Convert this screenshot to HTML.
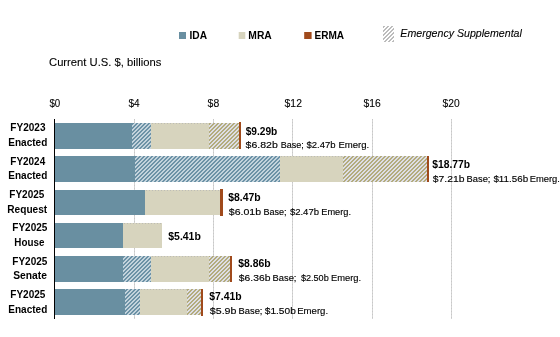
<!DOCTYPE html>
<html><head><meta charset="utf-8"><title>Chart</title><style>
html,body{margin:0;padding:0;background:#fff;width:560px;height:337px;overflow:hidden}
text{font-family:"Liberation Sans", sans-serif}
</style></head><body>
<svg width="560" height="337" viewBox="0 0 560 337" style='display:block;will-change:transform;font-family:"Liberation Sans", sans-serif'>
<defs><pattern id="bh" patternUnits="userSpaceOnUse" x="3" y="0" width="4" height="4"><rect width="4" height="4" fill="#c3d3dc"/><path d="M0,0h1v1h-1z M1,0h1v1h-1z M0,1h1v1h-1z M3,1h1v1h-1z M2,2h1v1h-1z M3,2h1v1h-1z M1,3h1v1h-1z M2,3h1v1h-1z" fill="#6c92a6" shape-rendering="crispEdges"/></pattern><pattern id="th" patternUnits="userSpaceOnUse" x="0" y="0" width="4" height="4"><rect width="4" height="4" fill="#dedee5"/><path d="M0,0h1v1h-1z M1,0h1v1h-1z M0,1h1v1h-1z M3,1h1v1h-1z M2,2h1v1h-1z M3,2h1v1h-1z M1,3h1v1h-1z M2,3h1v1h-1z" fill="#b3ac7e" shape-rendering="crispEdges"/></pattern><pattern id="gh" patternUnits="userSpaceOnUse" x="1" y="0" width="4" height="4"><rect width="4" height="4" fill="#ffffff"/><path d="M0,0h1v1h-1z M1,0h1v1h-1z M0,1h1v1h-1z M3,1h1v1h-1z M2,2h1v1h-1z M3,2h1v1h-1z M1,3h1v1h-1z M2,3h1v1h-1z" fill="#bcbcbc" shape-rendering="crispEdges"/></pattern></defs>
<rect x="179" y="32" width="7" height="7" fill="#698fa1"/>
<rect x="238.7" y="32" width="6.6" height="7" fill="#d7d4be"/>
<rect x="304.2" y="32" width="7.4" height="7" fill="#a04a1c"/>
<rect x="383" y="26" width="11" height="16" fill="url(#gh)"/>
<rect x="134" y="119" width="1" height="200" fill="#d4d4d4"/>
<line x1="134.5" y1="119" x2="134.5" y2="319" stroke="#c8c8c8" stroke-width="1" stroke-dasharray="1 2"/>
<rect x="213" y="119" width="1" height="200" fill="#d4d4d4"/>
<line x1="213.5" y1="119" x2="213.5" y2="319" stroke="#c8c8c8" stroke-width="1" stroke-dasharray="1 2"/>
<rect x="292" y="119" width="1" height="200" fill="#d4d4d4"/>
<line x1="292.5" y1="119" x2="292.5" y2="319" stroke="#c8c8c8" stroke-width="1" stroke-dasharray="1 2"/>
<rect x="372" y="119" width="1" height="200" fill="#d4d4d4"/>
<line x1="372.5" y1="119" x2="372.5" y2="319" stroke="#c8c8c8" stroke-width="1" stroke-dasharray="1 2"/>
<rect x="451" y="119" width="1" height="200" fill="#d4d4d4"/>
<line x1="451.5" y1="119" x2="451.5" y2="319" stroke="#c8c8c8" stroke-width="1" stroke-dasharray="1 2"/>
<rect x="55" y="123" width="77" height="26" fill="#698fa1"/>
<rect x="132" y="123" width="19" height="26" fill="url(#bh)"/>
<rect x="151" y="123" width="58" height="26" fill="#d7d4be"/>
<line x1="152" y1="123.5" x2="209" y2="123.5" stroke="#bdbcb6" stroke-width="1" stroke-dasharray="1 2"/>
<rect x="209" y="123" width="30" height="26" fill="url(#th)"/>
<rect x="239" y="122" width="2" height="27" fill="#a04a1c"/>
<rect x="55" y="156" width="80" height="26" fill="#698fa1"/>
<rect x="135" y="156" width="145" height="26" fill="url(#bh)"/>
<rect x="280" y="156" width="63" height="26" fill="#d7d4be"/>
<line x1="281" y1="156.5" x2="343" y2="156.5" stroke="#bdbcb6" stroke-width="1" stroke-dasharray="1 2"/>
<rect x="343" y="156" width="84" height="26" fill="url(#th)"/>
<rect x="427" y="156" width="2" height="26" fill="#a04a1c"/>
<rect x="55" y="190" width="90" height="25" fill="#698fa1"/>
<rect x="145" y="190" width="75" height="25" fill="#d7d4be"/>
<line x1="146" y1="190.5" x2="220" y2="190.5" stroke="#bdbcb6" stroke-width="1" stroke-dasharray="1 2"/>
<rect x="220" y="189" width="3" height="27" fill="#a04a1c"/>
<rect x="55" y="223" width="68" height="25" fill="#698fa1"/>
<rect x="123" y="223" width="39" height="25" fill="#d7d4be"/>
<line x1="124" y1="223.5" x2="162" y2="223.5" stroke="#bdbcb6" stroke-width="1" stroke-dasharray="1 2"/>
<rect x="55" y="256" width="68" height="26" fill="#698fa1"/>
<rect x="123" y="256" width="28" height="26" fill="url(#bh)"/>
<rect x="151" y="256" width="58" height="26" fill="#d7d4be"/>
<line x1="152" y1="256.5" x2="209" y2="256.5" stroke="#bdbcb6" stroke-width="1" stroke-dasharray="1 2"/>
<rect x="209" y="256" width="21" height="26" fill="url(#th)"/>
<rect x="230" y="256" width="2" height="26" fill="#a04a1c"/>
<rect x="55" y="289" width="70" height="26" fill="#698fa1"/>
<rect x="125" y="289" width="15" height="26" fill="url(#bh)"/>
<rect x="140" y="289" width="47" height="26" fill="#d7d4be"/>
<line x1="141" y1="289.5" x2="187" y2="289.5" stroke="#bdbcb6" stroke-width="1" stroke-dasharray="1 2"/>
<rect x="187" y="289" width="14" height="26" fill="url(#th)"/>
<rect x="201" y="289" width="2" height="27" fill="#a04a1c"/>
<rect x="54" y="119" width="1" height="200" fill="#000"/>
<g fill="#000"><text x="189.54" y="38.6" font-size="10.8" font-weight="bold" font-style="normal" textLength="17.54" lengthAdjust="spacingAndGlyphs">IDA</text>
<text x="248.33" y="38.5" font-size="10.8" font-weight="bold" font-style="normal" textLength="23.45" lengthAdjust="spacingAndGlyphs">MRA</text>
<text x="314.45" y="38.5" font-size="10.8" font-weight="bold" font-style="normal" textLength="29.65" lengthAdjust="spacingAndGlyphs">ERMA</text>
<text x="400.33" y="36.75" font-size="10.5" font-weight="normal" font-style="italic" textLength="121.51" lengthAdjust="spacingAndGlyphs" stroke="#000" stroke-width="0.1">Emergency Supplemental</text>
<text x="49.04" y="66.0" font-size="10.5" font-weight="normal" font-style="normal" textLength="112.25" lengthAdjust="spacingAndGlyphs" stroke="#000" stroke-width="0.1">Current U.S. $, billions</text>
<text x="49.40" y="107.0" font-size="10.3" font-weight="normal" font-style="normal" textLength="10.81" lengthAdjust="spacingAndGlyphs" stroke="#000" stroke-width="0.1">$0</text>
<text x="128.40" y="107.0" font-size="10.3" font-weight="normal" font-style="normal" textLength="11.17" lengthAdjust="spacingAndGlyphs" stroke="#000" stroke-width="0.1">$4</text>
<text x="207.60" y="107.0" font-size="10.3" font-weight="normal" font-style="normal" textLength="11.65" lengthAdjust="spacingAndGlyphs" stroke="#000" stroke-width="0.1">$8</text>
<text x="284.60" y="107.0" font-size="10.3" font-weight="normal" font-style="normal" textLength="17.31" lengthAdjust="spacingAndGlyphs" stroke="#000" stroke-width="0.1">$12</text>
<text x="363.60" y="107.0" font-size="10.3" font-weight="normal" font-style="normal" textLength="17.25" lengthAdjust="spacingAndGlyphs" stroke="#000" stroke-width="0.1">$16</text>
<text x="442.60" y="107.0" font-size="10.3" font-weight="normal" font-style="normal" textLength="17.10" lengthAdjust="spacingAndGlyphs" stroke="#000" stroke-width="0.1">$20</text>
<text x="10.35" y="131.1" font-size="10" font-weight="bold" font-style="normal" textLength="35.13" lengthAdjust="spacingAndGlyphs">FY2023</text>
<text x="8.35" y="145.70000000000002" font-size="10" font-weight="bold" font-style="normal" textLength="38.90" lengthAdjust="spacingAndGlyphs">Enacted</text>
<text x="10.35" y="164.8" font-size="10" font-weight="bold" font-style="normal" textLength="34.82" lengthAdjust="spacingAndGlyphs">FY2024</text>
<text x="8.35" y="178.70000000000002" font-size="10" font-weight="bold" font-style="normal" textLength="38.90" lengthAdjust="spacingAndGlyphs">Enacted</text>
<text x="9.35" y="198.1" font-size="10" font-weight="bold" font-style="normal" textLength="34.92" lengthAdjust="spacingAndGlyphs">FY2025</text>
<text x="7.34" y="212.70000000000002" font-size="10" font-weight="bold" font-style="normal" textLength="39.86" lengthAdjust="spacingAndGlyphs">Request</text>
<text x="12.35" y="231.1" font-size="10" font-weight="bold" font-style="normal" textLength="35.02" lengthAdjust="spacingAndGlyphs">FY2025</text>
<text x="14.36" y="245.70000000000002" font-size="10" font-weight="bold" font-style="normal" textLength="29.99" lengthAdjust="spacingAndGlyphs">House</text>
<text x="12.35" y="264.79999999999995" font-size="10" font-weight="bold" font-style="normal" textLength="35.02" lengthAdjust="spacingAndGlyphs">FY2025</text>
<text x="13.19" y="278.7" font-size="10" font-weight="bold" font-style="normal" textLength="33.76" lengthAdjust="spacingAndGlyphs">Senate</text>
<text x="10.35" y="298.09999999999997" font-size="10" font-weight="bold" font-style="normal" textLength="35.02" lengthAdjust="spacingAndGlyphs">FY2025</text>
<text x="8.35" y="312.7" font-size="10" font-weight="bold" font-style="normal" textLength="38.90" lengthAdjust="spacingAndGlyphs">Enacted</text>
<text x="245.65" y="134.5" font-size="10" font-weight="bold" font-style="normal" textLength="31.69" lengthAdjust="spacingAndGlyphs">$9.29b</text>
<text x="432.25" y="167.5" font-size="10" font-weight="bold" font-style="normal" textLength="37.86" lengthAdjust="spacingAndGlyphs">$18.77b</text>
<text x="228.24" y="200.5" font-size="10" font-weight="bold" font-style="normal" textLength="32.41" lengthAdjust="spacingAndGlyphs">$8.47b</text>
<text x="168.24" y="239.75" font-size="10" font-weight="bold" font-style="normal" textLength="32.61" lengthAdjust="spacingAndGlyphs">$5.41b</text>
<text x="238.24" y="266.5" font-size="10" font-weight="bold" font-style="normal" textLength="32.41" lengthAdjust="spacingAndGlyphs">$8.86b</text>
<text x="209.24" y="299.5" font-size="10" font-weight="bold" font-style="normal" textLength="32.41" lengthAdjust="spacingAndGlyphs">$7.41b</text>
<text x="245.54" y="148.3" font-size="9.9" font-weight="normal" font-style="normal" textLength="32.27" lengthAdjust="spacingAndGlyphs" stroke="#000" stroke-width="0.15">$6.82b</text>
<text x="280.68" y="148.3" font-size="9.9" font-weight="normal" font-style="normal" textLength="23.05" lengthAdjust="spacingAndGlyphs" stroke="#000" stroke-width="0.15">Base;</text>
<text x="306.55" y="148.3" font-size="9.9" font-weight="normal" font-style="normal" textLength="29.06" lengthAdjust="spacingAndGlyphs" stroke="#000" stroke-width="0.15">$2.47b</text>
<text x="338.38" y="148.3" font-size="9.9" font-weight="normal" font-style="normal" textLength="30.86" lengthAdjust="spacingAndGlyphs" stroke="#000" stroke-width="0.15">Emerg.</text>
<text x="432.80" y="181.9" font-size="9.9" font-weight="normal" font-style="normal" textLength="31.65" lengthAdjust="spacingAndGlyphs" stroke="#000" stroke-width="0.15">$7.21b</text>
<text x="466.55" y="181.9" font-size="9.9" font-weight="normal" font-style="normal" textLength="23.91" lengthAdjust="spacingAndGlyphs" stroke="#000" stroke-width="0.15">Base;</text>
<text x="493.40" y="181.9" font-size="9.9" font-weight="normal" font-style="normal" textLength="34.70" lengthAdjust="spacingAndGlyphs" stroke="#000" stroke-width="0.15">$11.56b</text>
<text x="529.65" y="181.9" font-size="9.9" font-weight="normal" font-style="normal" textLength="30.22" lengthAdjust="spacingAndGlyphs" stroke="#000" stroke-width="0.15">Emerg.</text>
<text x="228.79" y="215.0" font-size="9.9" font-weight="normal" font-style="normal" textLength="32.27" lengthAdjust="spacingAndGlyphs" stroke="#000" stroke-width="0.15">$6.01b</text>
<text x="263.50" y="215.0" font-size="9.9" font-weight="normal" font-style="normal" textLength="23.12" lengthAdjust="spacingAndGlyphs" stroke="#000" stroke-width="0.15">Base;</text>
<text x="289.90" y="215.0" font-size="9.9" font-weight="normal" font-style="normal" textLength="29.11" lengthAdjust="spacingAndGlyphs" stroke="#000" stroke-width="0.15">$2.47b</text>
<text x="321.26" y="215.0" font-size="9.9" font-weight="normal" font-style="normal" textLength="29.80" lengthAdjust="spacingAndGlyphs" stroke="#000" stroke-width="0.15">Emerg.</text>
<text x="238.80" y="281.0" font-size="9.9" font-weight="normal" font-style="normal" textLength="31.65" lengthAdjust="spacingAndGlyphs" stroke="#000" stroke-width="0.15">$6.36b</text>
<text x="272.55" y="281.0" font-size="9.9" font-weight="normal" font-style="normal" textLength="23.91" lengthAdjust="spacingAndGlyphs" stroke="#000" stroke-width="0.15">Base;</text>
<text x="300.91" y="281.0" font-size="9.9" font-weight="normal" font-style="normal" textLength="27.84" lengthAdjust="spacingAndGlyphs" stroke="#000" stroke-width="0.15">$2.50b</text>
<text x="330.90" y="281.0" font-size="9.9" font-weight="normal" font-style="normal" textLength="30.17" lengthAdjust="spacingAndGlyphs" stroke="#000" stroke-width="0.15">Emerg.</text>
<text x="209.79" y="314.0" font-size="9.9" font-weight="normal" font-style="normal" textLength="26.66" lengthAdjust="spacingAndGlyphs" stroke="#000" stroke-width="0.15">$5.9b</text>
<text x="238.55" y="314.0" font-size="9.9" font-weight="normal" font-style="normal" textLength="23.91" lengthAdjust="spacingAndGlyphs" stroke="#000" stroke-width="0.15">Base;</text>
<text x="264.80" y="314.0" font-size="9.9" font-weight="normal" font-style="normal" textLength="30.99" lengthAdjust="spacingAndGlyphs" stroke="#000" stroke-width="0.15">$1.50b</text>
<text x="297.23" y="314.0" font-size="9.9" font-weight="normal" font-style="normal" textLength="30.86" lengthAdjust="spacingAndGlyphs" stroke="#000" stroke-width="0.15">Emerg.</text></g>
</svg>
</body></html>
